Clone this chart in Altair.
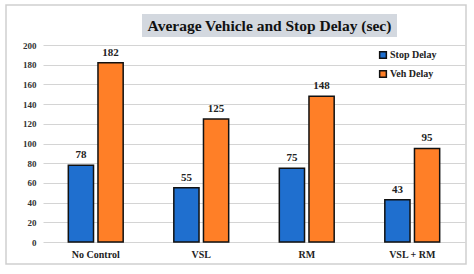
import altair as alt
import pandas as pd

categories = ["No Control", "VSL", "RM", "VSL + RM"]
series = ["Stop Delay", "Veh Delay"]
stop_delay = [78, 55, 75, 43]
veh_delay = [182, 125, 148, 95]
y_ticks = [0, 20, 40, 60, 80, 100, 120, 140, 160, 180, 200]
title_text = "Average Vehicle and Stop Delay (sec)"

rows = []
for c, s, v in zip(categories, stop_delay, veh_delay):
    rows.append({"category": c, "series": series[0], "value": s})
    rows.append({"category": c, "series": series[1], "value": v})
df = pd.DataFrame(rows)

SERIF = "Liberation Serif"
W, H = 422, 197

x_enc = alt.X("category:N", sort=categories, title=None,
              scale=alt.Scale(paddingInner=0.48, paddingOuter=0.24),
              axis=alt.Axis(labelFont=SERIF, labelFontWeight="bold", labelFontSize=10,
                            labelColor="#222222", labelAngle=0, labelPadding=7,
                            domain=False, ticks=False, grid=False))
xo_enc = alt.XOffset("series:N", sort=series, scale=alt.Scale(paddingInner=0.15))
y_enc = alt.Y("value:Q", title=None,
              scale=alt.Scale(domain=[0, 200], nice=False),
              axis=alt.Axis(values=y_ticks, labelFont=SERIF, labelFontWeight="bold",
                            labelFontSize=9, labelColor="#333333", labelPadding=7,
                            labelOverlap=False, domain=False, ticks=False,
                            gridColor="#d4d4d4", gridWidth=1))

one = alt.Data(values=[{"t": title_text}])

# outer border around the whole figure (stroke only so axes stay visible)
frame = alt.Chart(one).mark_rect(fillOpacity=0, stroke="#cfcfcf", strokeWidth=1.5).encode(
    x=alt.value(-37), x2=alt.value(423), y=alt.value(-40), y2=alt.value(219))

title_bg = alt.Chart(one).mark_rect(fill="#d3d8df").encode(
    x=alt.value(99), x2=alt.value(354), y=alt.value(-31), y2=alt.value(-8))

title = alt.Chart(one).mark_text(font=SERIF, fontWeight="bold", fontSize=15.5,
                                 color="#111111", baseline="middle").encode(
    x=alt.value(226.5), y=alt.value(-19), text="t:N")

bars = alt.Chart(df).mark_bar(stroke="#111111", strokeWidth=1.5).encode(
    x=x_enc, xOffset=xo_enc, y=y_enc,
    color=alt.Color("series:N", sort=series,
                    scale=alt.Scale(domain=series, range=["#1f6fcf", "#ff7f27"]),
                    legend=alt.Legend(title=None, orient="none", legendX=335, legendY=5,
                                      symbolType="square", symbolSize=45,
                                      symbolStrokeColor="#111111", symbolStrokeWidth=1.5,
                                      labelFont=SERIF, labelFontWeight="bold",
                                      labelFontSize=10, labelColor="#222222",
                                      rowPadding=5, labelOffset=2)))

labels = alt.Chart(df).mark_text(font=SERIF, fontWeight="bold", fontSize=11,
                                 color="#222222", baseline="bottom", dy=-5).encode(
    x=x_enc, xOffset=xo_enc, y=y_enc, text="value:Q")

chart = alt.layer(frame, title_bg, title, bars, labels).properties(
    width=W, height=H,
    autosize=alt.AutoSizeParams(type="none"),
    padding={"left": 43, "top": 45, "right": 9, "bottom": 32},
).configure_view(stroke=None)

chart.save("out.html", embed_options={"renderer": "svg", "actions": False})
